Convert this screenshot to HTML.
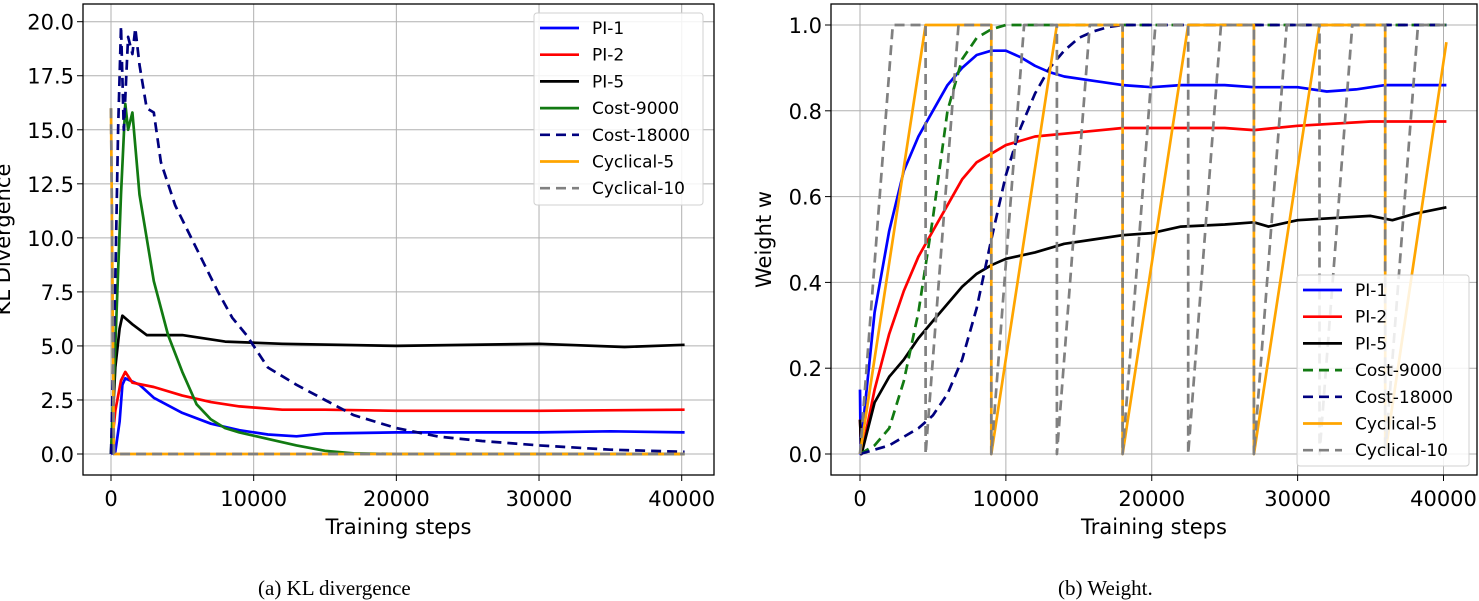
<!DOCTYPE html>
<html><head><meta charset="utf-8"><style>
body{margin:0;background:#fff;}
svg{display:block;font-family:"DejaVu Sans","Liberation Sans",sans-serif;}
</style></head><body>
<svg id="fig" width="1479" height="601" viewBox="0 0 1479 601" xmlns="http://www.w3.org/2000/svg">
<text x="258" y="595" font-family="Liberation Serif, serif" font-size="21">(a)  KL divergence</text>
<text x="1058" y="595" font-family="Liberation Serif, serif" font-size="21">(b)  Weight.</text>
</svg>
<script>
// ---------- Data: KL divergence chart ----------
const klXTicks = [0, 10000, 20000, 30000, 40000];
const klYTicks = [0, 2.5, 5, 7.5, 10, 12.5, 15, 17.5, 20];
const klYTickLabels = ["0.0","2.5","5.0","7.5","10.0","12.5","15.0","17.5","20.0"];
const klPI1 = [[0,0],[300,0.1],[600,1.5],[800,3.2],[1000,3.5],[2000,3.2],[3000,2.6],[5000,1.9],[7000,1.4],[9000,1.1],[11000,0.9],[13000,0.82],[15000,0.95],[20000,1.0],[25000,1.0],[30000,1.0],[35000,1.05],[40200,1.0]];
const klPI2 = [[0,0],[300,2],[700,3.4],[1000,3.8],[1500,3.3],[3000,3.1],[5000,2.7],[7000,2.4],[9000,2.2],[12000,2.05],[15000,2.05],[20000,2.0],[30000,2.0],[40200,2.05]];
const klPI5 = [[0,0],[300,4],[600,5.8],[800,6.4],[1500,6.0],[2500,5.5],[5000,5.5],[8000,5.2],[12000,5.1],[20000,5.0],[30000,5.1],[36000,4.95],[40200,5.05]];
const klCost9000 = [[0,0],[300,5],[700,12],[1000,16.2],[1200,15],[1500,15.8],[2000,12],[3000,8],[4000,5.5],[5000,3.8],[6000,2.3],[7000,1.6],[8000,1.2],[9000,1.0],[11000,0.7],[13000,0.4],[15000,0.15],[17000,0.03],[20000,0],[40200,0]];
const klCost18000 = [[0,0],[300,8],[500,15],[700,19.8],[900,15],[1200,19.3],[1500,18.5],[1700,19.7],[2000,18],[2500,16],[3000,15.8],[3500,13.5],[4500,11.5],[6000,9.5],[7500,7.5],[8500,6.3],[9500,5.5],[11000,4],[13000,3.2],[15000,2.5],[17000,1.8],[20000,1.2],[23000,0.8],[26000,0.6],[30000,0.4],[35000,0.2],[40200,0.1]];
const klCyc5 = [[0,16],[200,0],[40200,0]];
const klCyc10 = [[0,16],[200,0],[40200,0]];

// ---------- Data: Weight chart ----------
const wXTicks = [0, 10000, 20000, 30000, 40000];
const wYTicks = [0, 0.2, 0.4, 0.6, 0.8, 1.0];
const wYTickLabels = ["0.0","0.2","0.4","0.6","0.8","1.0"];
const wPI1 = [[0,0.15],[50,0],[300,0.1],[1000,0.33],[2000,0.52],[3000,0.66],[4000,0.74],[5000,0.8],[6000,0.86],[7000,0.9],[8000,0.93],[9000,0.94],[10000,0.94],[11000,0.925],[12000,0.905],[13000,0.89],[14000,0.88],[16000,0.87],[18000,0.86],[20000,0.855],[22000,0.86],[25000,0.86],[27000,0.855],[30000,0.855],[32000,0.845],[34000,0.85],[36000,0.86],[40200,0.86]];
const wPI2 = [[0,0.08],[100,0],[1000,0.15],[2000,0.28],[3000,0.38],[4000,0.46],[5000,0.52],[6000,0.58],[7000,0.64],[8000,0.68],[9000,0.7],[10000,0.72],[12000,0.74],[15000,0.75],[18000,0.76],[25000,0.76],[27000,0.755],[30000,0.765],[35000,0.775],[40200,0.775]];
const wPI5 = [[0,0.08],[100,0],[1000,0.12],[2000,0.18],[3000,0.22],[4000,0.27],[5000,0.31],[6000,0.35],[7000,0.39],[8000,0.42],[9000,0.44],[10000,0.455],[12000,0.47],[14000,0.49],[16000,0.5],[18000,0.51],[20000,0.515],[22000,0.53],[25000,0.535],[27000,0.54],[28000,0.53],[30000,0.545],[35000,0.555],[36500,0.545],[38000,0.56],[40200,0.575]];
const wCost9000 = [[0,0],[1000,0.02],[2000,0.06],[3000,0.17],[4000,0.33],[5000,0.55],[6000,0.8],[7000,0.92],[8000,0.97],[9000,0.99],[10000,1.0],[40200,1.0]];
const wCost18000 = [[0,0],[1000,0.01],[2000,0.02],[3000,0.04],[4000,0.06],[5000,0.09],[6000,0.14],[7000,0.22],[8000,0.34],[9000,0.5],[10000,0.65],[11000,0.76],[12000,0.84],[13000,0.9],[14000,0.94],[15000,0.97],[16000,0.985],[17000,0.995],[18000,1.0],[40200,1.0]];
const wCyc5 = [[0,0],[4500,1],[9000,1],[9000,0],[13500,1],[18000,1],[18000,0],[22500,1],[27000,1],[27000,0],[31500,1],[36000,1],[36000,0],[40200,0.96]];
const wCyc10 = [[0,0],[2250,1],[4500,1],[4500,0],[6750,1],[9000,1],[9000,0],[11250,1],[13500,1],[13500,0],[15750,1],[18000,1],[18000,0],[20250,1],[22500,1],[22500,0],[24750,1],[27000,1],[27000,0],[29250,1],[31500,1],[31500,0],[33750,1],[36000,1],[36000,0],[38250,1],[40200,1]];

const legendLabels = ["PI-1","PI-2","PI-5","Cost-9000","Cost-18000","Cyclical-5","Cyclical-10"];
const klStyles = [
 {c:"#0000ff",d:null},{c:"#ff0000",d:null},{c:"#000000",d:null},
 {c:"#127a12",d:null},{c:"#00007f",d:"10,6"},{c:"#ffa500",d:null},{c:"#808080",d:"10,6"}];
const wStyles = [
 {c:"#0000ff",d:null},{c:"#ff0000",d:null},{c:"#000000",d:null},
 {c:"#127a12",d:"10,6"},{c:"#00007f",d:"10,6"},{c:"#ffa500",d:null},{c:"#808080",d:"10,6"}];

const NS="http://www.w3.org/2000/svg";
const svg=document.getElementById('fig');
function mk(tag,attrs,parent){const e=document.createElementNS(NS,tag);for(const k in attrs)e.setAttribute(k,attrs[k]);(parent||svg).appendChild(e);return e;}

function drawChart(cfg){
  const styles=cfg.styles;
  const g=mk('g',{});
  
  
  const sx=v=>cfg.x0px+v*(cfg.x1px-cfg.x0px)/40000;
  const sy=v=>cfg.y0px+v*(cfg.y1px-cfg.y0px)/cfg.ymax;
  cfg.xTicks.forEach((t,i)=>{
    const l=mk('line',{x1:sx(t),x2:sx(t),y1:cfg.top,y2:cfg.bottom,stroke:'#b0b0b0','stroke-width':1},g);
    
    
    mk('line',{x1:sx(t),x2:sx(t),y1:cfg.bottom,y2:cfg.bottom+6,stroke:'#000','stroke-width':1},g);
    const tx=mk('text',{x:sx(t),y:cfg.bottom+31,'text-anchor':'middle','font-size':21},g);
    tx.textContent=String(t);
    
    
  });
  cfg.yTicks.forEach((t,i)=>{
    const l=mk('line',{x1:cfg.left,x2:cfg.right,y1:sy(t),y2:sy(t),stroke:'#b0b0b0','stroke-width':1},g);
    
    
    mk('line',{x1:cfg.left-6,x2:cfg.left,y1:sy(t),y2:sy(t),stroke:'#000','stroke-width':1},g);
    const tx=mk('text',{x:cfg.left-9,y:sy(t)+8,'text-anchor':'end','font-size':21},g);
    tx.textContent=cfg.yLabels[i];
    
    
  });
  const cid='clip'+cfg.name;
  const cp=mk('clipPath',{id:cid},g);
  mk('rect',{x:cfg.left,y:cfg.top,width:cfg.right-cfg.left,height:cfg.bottom-cfg.top},cp);
  const lg=mk('g',{'clip-path':'url(#'+cid+')'},g);
  cfg.series.forEach((s,i)=>{
    const st=styles[i];
    const p=mk('polyline',{points:s.map(d=>sx(d[0]).toFixed(1)+','+sy(d[1]).toFixed(1)).join(' '),fill:'none',stroke:st.c,'stroke-width':2.7,'stroke-linejoin':'round'},lg);
    if(st.d)p.setAttribute('stroke-dasharray',st.d);
    
    
  });
  const fr=mk('rect',{x:cfg.left,y:cfg.top,width:cfg.right-cfg.left,height:cfg.bottom-cfg.top,fill:'none',stroke:'#000','stroke-width':1.3},g);
  
  
  const xl=mk('text',{x:(cfg.left+cfg.right)/2,y:534,'text-anchor':'middle','font-size':21},g);
  xl.textContent='Training steps';
  
  
  const yl=mk('text',{x:0,y:0,'text-anchor':'middle','font-size':21,transform:'translate('+cfg.yTitleX+','+((cfg.top+cfg.bottom)/2)+') rotate(-90)'},g);
  yl.textContent=cfg.yTitle;
  
  
  const L=cfg.legend;
  const lb=mk('rect',{x:L.x,y:L.y,width:L.w,height:L.h,rx:3,fill:'#fff','fill-opacity':0.85,stroke:'#d0d0d0','stroke-width':1},g);
  
  
  legendLabels.forEach((lab,i)=>{
    const yy=L.y+15+i*26.7;
    const ln=mk('line',{x1:L.x+6,x2:L.x+45,y1:yy,y2:yy,stroke:styles[i].c,'stroke-width':2.7},g);
    if(styles[i].d)ln.setAttribute('stroke-dasharray',styles[i].d);
    
    
    const t=mk('text',{x:L.x+58,y:yy+6,'font-size':17},g);
    t.textContent=lab;
    
    
  });
}

drawChart({name:'kl-chart',left:83,right:714,top:4,bottom:475,x0px:111,x1px:681.7,y0px:454,y1px:21.7,ymax:20,
  xTicks:klXTicks,yTicks:klYTicks,yLabels:klYTickLabels,yTitle:'KL Divergence',yTitleX:10,styles:klStyles,
  series:[klPI1,klPI2,klPI5,klCost9000,klCost18000,klCyc5,klCyc10],
  legend:{x:534,y:13,w:169,h:192}});
drawChart({name:'weight-chart',left:831,right:1477,top:4,bottom:475,x0px:860,x1px:1443.5,y0px:454,y1px:25,ymax:1,
  xTicks:wXTicks,yTicks:wYTicks,yLabels:wYTickLabels,yTitle:'Weight w',yTitleX:771,styles:wStyles,
  series:[wPI1,wPI2,wPI5,wCost9000,wCost18000,wCyc5,wCyc10],
  legend:{x:1297,y:275,w:172,h:191}});
</script>
</body></html>
